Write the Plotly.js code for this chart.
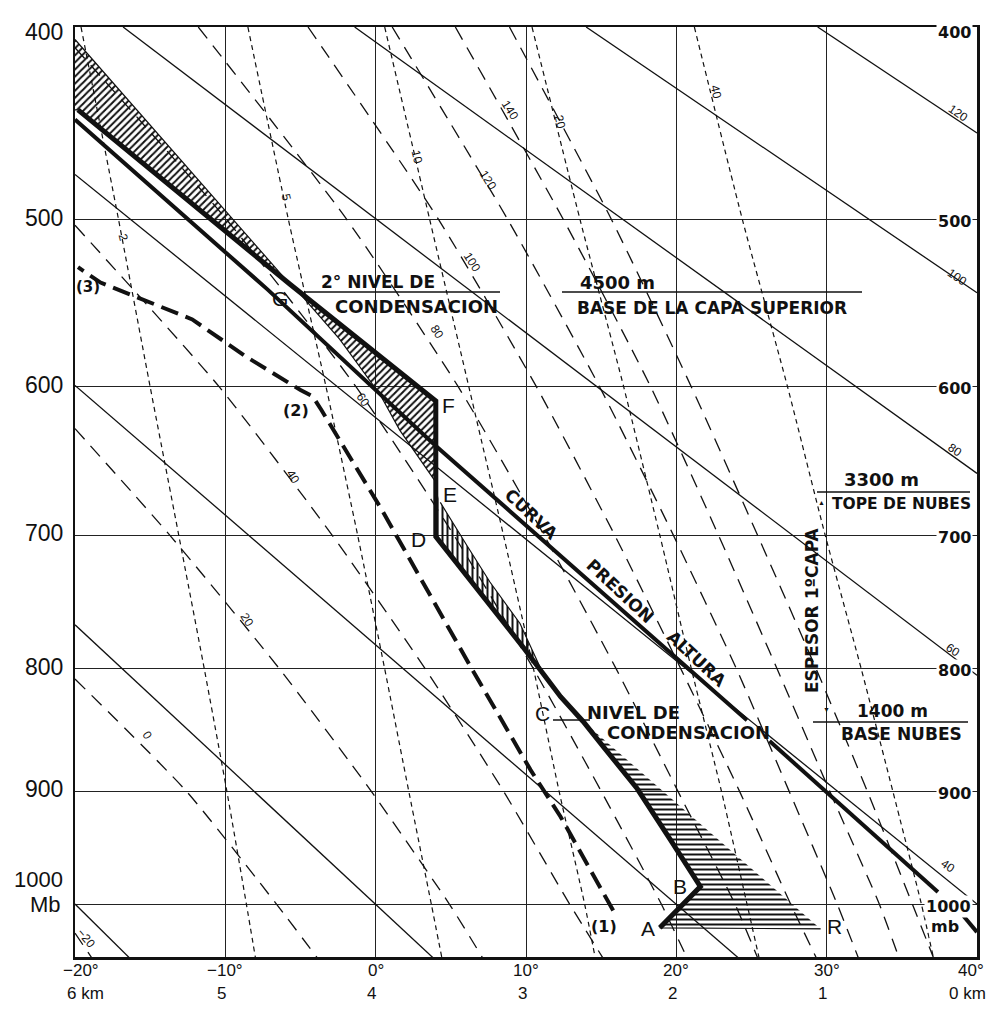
<!DOCTYPE html>
<html><head><meta charset="utf-8">
<script src="https://cdn.plot.ly/plotly-3.0.1.min.js"></script>
<style>html,body{margin:0;padding:0;background:#fff}#chart{width:1001px;height:1024px}</style>
</head><body><div id="chart"></div>
<script>
// ---- axis data ----
const KAPPA = 0.286;
const vp = p => (p === null ? null : Math.pow(p, KAPPA));
const pressureLevels = [400, 500, 600, 700, 800, 900, 1000];
const pressureLabels = ['400', '500', '600', '700', '800', '900', '1000'];
const isotherms = [-20, -10, 0, 10, 20, 30, 40];
const tempTickText = ['−20°', '−10°', '0°', '10°', '20°', '30°', '40°'];
const heightTickText = ['6 km', '5', '4', '3', '2', '1', '0 km'];

// ---- dry adiabats (straight lines) ----
const dryTheta = [-20, 0, 20, 40, 60, 80, 100, 120];
const dryP1 = [1000, 766, 599, 475, 400, 400, 400, 400];
const dryT1 = [-20, -20, -20, -20, -16.8, -1.4, 14.0, 29.4];
const dryP2 = [1050, 1050, 1050, 1000, 805, 657, 542, 453];
const dryT2 = [-16.4, 3.8, 24.1, 40, 40, 40, 40, 40];

// ---- saturation mixing-ratio lines (g/kg) ----
const mixLevels = [400, 500, 600, 700, 800, 900, 1000, 1050];
const mix2 = [-19.6, -17.1, -15.0, -13.1, -11.4, -9.9, -8.6, -8.0];
const mix5 = [-8.5, -5.8, -3.3, -1.2, 0.6, 2.2, 3.7, 4.4];
const mix10 = [0.6, 3.6, 6.2, 8.5, 10.5, 12.2, 13.9, 14.6];
const mix20 = [10.4, 13.6, 16.5, 18.9, 21.0, 23.0, 24.7, 25.5];
const mix40 = [21.2, 24.4, 27.4, 29.9, 32.3, 34.4, 36.3, 37.1];

// ---- pseudo-adiabats ----
const psM20P = [1027, 1050], psM20T = [-20, -18.9];
const ps0P = [808, 900, 1000, 1050], ps0T = [-20, -12.6, -6.6, -3.9];
const ps20P = [627, 700, 800, 900, 1000, 1050], ps20T = [-20, -13.7, -6.4, -0.3, 4.9, 7.1];
const ps40P = [503, 600, 700, 800, 900, 1000, 1050], ps40T = [-20, -10.4, -2.9, 3.3, 8.5, 12.9, 15.1];
const ps60P = [410, 500, 600, 700, 800, 900, 1000, 1050], ps60T = [-20, -9.9, -1.3, 5.2, 10.5, 15.0, 19.0, 20.7];
const ps80T = [-11.8, -1.9, 5.5, 11.2, 16.0, 20.1, 23.9, 25.4];
const ps100T = [-4.5, 4.2, 10.7, 15.9, 20.3, 24.2, 27.6, 29.3];
const ps120T = [1.1, 8.8, 14.9, 19.8, 24.0, 27.5, 30.7, 32.1];
const ps140T = [5.3, 12.5, 18.3, 22.8, 26.7, 30.2, 33.5, 34.8];
const ps160T = [8.9, 15.7, 21.0, 25.4, 29.3, 32.7, 35.7, 37.1];

// ---- sounding A-B-C-D-E-F-G (thick) ----
const soundingP = [1022, 984, 942, 898, 862, 842, 822, 783, 701, 609, 537, 441];
const soundingT = [18.9, 21.6, 19.6, 17.4, 15.1, 13.8, 12.3, 9.8, 4.0, 4.0, -5.7, -19.8];

// ---- dew-point curve (1)-(2)-(3) (thick dashed) ----
const dewP = [1006, 922, 882, 798, 682, 634, 615, 606, 602, 581, 558, 536, 527];
const dewT = [15.8, 12.3, 10.3, 6.3, 0.4, -2.4, -3.6, -4.2, -5.0, -8.6, -12.2, -18.3, -19.8];

// ---- curva presion-altura ----
const curvaP = [446, 540, 638, 841, null, 858, 989, null, 1011, 1026];
const curvaT = [-20, -7.2, 3.95, 24.7, null, 26.2, 37.4, null, 39.1, 40];

// ---- hatched areas ----
const hatchBottomT = [13.8, 15.1, 17.4, 19.6, 21.6, 18.9, 29.6];
const hatchBottomP = [842, 862, 898, 942, 984, 1022, 1023];
const hatchCloudT = [4.0, 4.0, 9.8, 11.3, 9.6, 7.6, 6.1, 4.3];
const hatchCloudP = [668, 701, 783, 808, 765, 734, 708, 677];
const hatchUpperT = [-5.7, 4.0, 4.0, 1.6, 0.3, -2.4, -5.0];
const hatchUpperP = [537, 609, 663, 628, 605, 570, 543];
const hatchTopT = [-20, -5.7, -19.8, -20];
const hatchTopP = [406, 537, 441, 441];

const INK = '#111';
const traces = [];
function line(T, P, w, dash, shape) {
  traces.push({type: 'scatter', mode: 'lines', x: T, y: P.map(vp),
    line: {color: INK, width: w, dash: dash || 'solid', shape: shape || 'linear', smoothing: 0.6},
    hoverinfo: 'skip', showlegend: false, connectgaps: false});
}
// dry adiabats
dryTheta.forEach((th, i) => line([dryT1[i], dryT2[i]], [dryP1[i], dryP2[i]], 1.3));
// mixing ratio
[mix2, mix5, mix10, mix20, mix40].forEach(m => line(m, mixLevels, 1.2, '5px,4px', 'spline'));
// pseudo-adiabats
const LD = '14px,9px';
line(psM20T, psM20P, 1.3, LD);
line(ps0T, ps0P, 1.3, LD, 'spline');
line(ps20T, ps20P, 1.3, LD, 'spline');
line(ps40T, ps40P, 1.3, LD, 'spline');
line(ps60T, ps60P, 1.3, LD, 'spline');
[ps80T, ps100T, ps120T, ps140T, ps160T].forEach(t => line(t, mixLevels, 1.3, LD, 'spline'));

// hatches
function hatch(T, P, shape, size) {
  traces.push({type: 'scatter', mode: 'lines', x: T, y: P.map(vp), fill: 'toself',
    fillcolor: 'rgba(255,255,255,0)',
    fillpattern: {shape: shape, fgcolor: INK, bgcolor: 'rgba(255,255,255,0)', size: size || 5, solidity: 0.4},
    line: {color: INK, width: 1.2}, hoverinfo: 'skip', showlegend: false});
}
hatch(hatchTopT, hatchTopP, '/');
hatch(hatchUpperT, hatchUpperP, '/');
hatch(hatchCloudT, hatchCloudP, '|');
hatch(hatchBottomT, hatchBottomP, '-');

// thick curves
line(dewT, dewP, 4, '18px,8px');
line(curvaT, curvaP, 4);
line(soundingT, soundingP, 5);

// ---- annotations ----
const L = 75, R = 977, TOP = 27, BOT = 957;
const px = x => (x - L) / (R - L);
const py = y => 1 - (y - TOP) / (BOT - TOP);
const ann = [];
function txt(text, x, y, size, opts) {
  ann.push(Object.assign({text: text, xref: 'paper', yref: 'paper', x: px(x), y: py(y),
    showarrow: false, xanchor: 'center', yanchor: 'middle',
    font: {family: 'Liberation Sans, Arial, sans-serif', size: size, color: INK}}, opts || {}));
}
function bold(text, x, y, size, opts) {
  txt('<b>' + text + '</b>', x, y, size, Object.assign({}, opts || {}));
  ann[ann.length - 1].font.family = 'DejaVu Sans, sans-serif';
}
// left and right axis labels
pressureLevels.forEach((p, i) => {
  const shift = p === 400 ? -5 : (p === 1000 ? 25 : 2);
  ann.push({text: pressureLabels[i], xref: 'paper', yref: 'y', x: 0, y: vp(p), xanchor: 'right', xshift: -10,
    yshift: shift, yanchor: 'middle', showarrow: false,
    font: {family: 'Liberation Sans, Arial, sans-serif', size: p === 1000 ? 22 : 23, color: INK}});
  const rs = p === 400 ? -5 : -2;
  ann.push({text: '<b>' + pressureLabels[i] + '</b>', xref: 'paper', yref: 'y', x: 1, y: vp(p), xanchor: 'right', xshift: -4,
    yshift: rs, yanchor: 'middle', showarrow: false, bgcolor: '#fff', borderpad: 1,
    font: {family: 'DejaVu Sans, sans-serif', size: 16, color: INK}});
});
ann.push({text: 'Mb', xref: 'paper', yref: 'y', x: 0, y: vp(1000), xanchor: 'right', xshift: -12, yshift: 0,
  yanchor: 'middle', showarrow: false, font: {family: 'Liberation Sans, Arial, sans-serif', size: 22, color: INK}});
ann.push({text: '<b>mb</b>', xref: 'paper', yref: 'y', x: 1, y: vp(1000), xanchor: 'right', xshift: -16, yshift: -22,
  yanchor: 'middle', showarrow: false, bgcolor: '#fff', borderpad: 1,
  font: {family: 'DejaVu Sans, sans-serif', size: 16, color: INK}});
// bottom labels
isotherms.forEach((t, i) => {
  const sh = i === 0 ? 6 : (i === 6 ? -6 : 0);
  ann.push({text: tempTickText[i], xref: 'x', yref: 'paper', x: t, y: 0, yanchor: 'top', yshift: -2, xshift: sh,
    showarrow: false, font: {family: 'Liberation Sans, Arial, sans-serif', size: 17, color: INK}});
  ann.push({text: heightTickText[i], xref: 'x', yref: 'paper', x: t, y: 0, yanchor: 'top', yshift: -25,
    xshift: i === 0 ? 10 : (i === 6 ? -10 : -4),
    showarrow: false, font: {family: 'Liberation Sans, Arial, sans-serif', size: 17, color: INK}});
});
// point letters
txt('A', 648, 928, 21); txt('B', 680, 886, 21); txt('C', 542, 713, 21); txt('D', 418, 539, 21);
txt('E', 450, 495, 21); txt('F', 448, 405, 21); txt('G', 280, 298, 21); txt('R', 834, 926, 21);
bold('(1)', 604, 926, 16); bold('(2)', 296, 410, 16); bold('(3)', 88, 287, 15);
// level texts
bold('2° NIVEL DE', 378, 282, 17);
bold('CONDENSACION', 416, 306, 18);
bold('4500 m', 617, 282, 18);
bold('BASE DE LA CAPA SUPERIOR', 712, 308, 17);
bold('NIVEL DE', 633, 712, 18);
bold('CONDENSACION', 688, 732, 18);
bold('3300 m', 881, 479, 18);
bold('TOPE DE NUBES', 901, 504, 15.5);
bold('1400 m', 892, 711, 17);
bold('BASE NUBES', 901, 734, 17);
bold('ESPESOR 1ºCAPA', 812, 610, 17, {textangle: -90});
bold('CURVA', 531, 514, 17, {textangle: 43});
bold('PRESION', 620, 591, 17, {textangle: 43});
bold('ALTURA', 697, 659, 17, {textangle: 43});
txt('▲', 821, 502, 7); txt('▼', 826, 709, 7);
// line labels
const small = 12;
[['120', 958, 113], ['100', 957, 277], ['80', 955, 450], ['60', 953, 650], ['40', 948, 866]].forEach(a => txt(a[0], a[1], a[2], small, {textangle: 34}));
txt('−20', 86, 938, small, {textangle: 50});
[['140', 510, 110], ['120', 488, 180], ['100', 472, 262], ['80', 437, 332], ['60', 363, 400], ['40', 293, 477], ['20', 247, 620], ['0', 147, 735]].forEach(a => txt(a[0], a[1], a[2], small, {textangle: 58}));
[['2', 123, 237], ['5', 286, 197], ['10', 417, 157], ['20', 560, 122], ['40', 716, 92]].forEach(a => txt(a[0], a[1], a[2], small, {textangle: 76}));

// underline shapes
const shapes = [];
function hl(x0, x1, y, w) {
  shapes.push({type: 'line', xref: 'paper', yref: 'paper', x0: px(x0), x1: px(x1), y0: py(y), y1: py(y), line: {color: INK, width: w || 1.6}});
}
hl(304, 500, 292); hl(562, 862, 292); hl(817, 970, 492); hl(813, 968, 722); hl(553, 590, 720, 1.4);

const layout = {
  width: 1001, height: 1024,
  margin: {l: L, r: 1001 - R, t: TOP, b: 1024 - BOT, pad: 0},
  paper_bgcolor: '#fff', plot_bgcolor: '#fff',
  font: {family: 'Liberation Sans, Arial, sans-serif', color: INK},
  xaxis: {range: [-20, 40], tickvals: isotherms, showticklabels: false, ticks: '',
    showgrid: true, gridcolor: '#222', gridwidth: 1, zeroline: false,
    showline: true, linecolor: INK, linewidth: 2.5, mirror: true, fixedrange: true},
  yaxis: {range: [vp(1049.5), vp(400)], tickvals: pressureLevels.map(vp), showticklabels: false, ticks: '',
    showgrid: true, gridcolor: '#222', gridwidth: 1, zeroline: false,
    showline: true, linecolor: INK, linewidth: 2.5, mirror: true, fixedrange: true},
  annotations: ann,
  shapes: shapes,
  showlegend: false
};
Plotly.newPlot('chart', traces, layout, {staticPlot: true, displayModeBar: false});
</script>
</body></html>
